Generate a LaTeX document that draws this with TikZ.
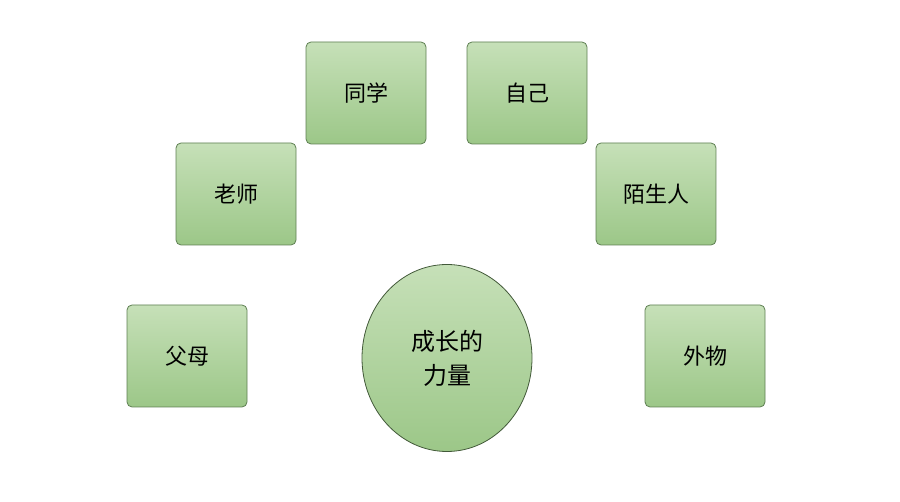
\documentclass[tikz,border=0pt]{standalone}
\usepackage{fontspec}
\setmainfont{Noto Sans CJK SC}
\usetikzlibrary{arrows.meta,shapes.geometric}
\definecolor{boxtop}{HTML}{C6E0B8}
\definecolor{boxbot}{HTML}{9CC788}
\definecolor{boxline}{HTML}{5E7F52}
\definecolor{arr}{HTML}{D6E9CF}
\begin{document}
\begin{tikzpicture}[x=1pt,y=-1pt,
  box/.style={draw=boxline,line width=0.8pt,rounded corners=5pt,top color=boxtop,bottom color=boxbot,minimum width=120pt,minimum height=102pt,font=\fontsize{22}{26}\selectfont},
  big/.style={draw=boxline!70!black,line width=0.8pt,ellipse,top color=boxtop,bottom color=boxbot,minimum width=170pt,minimum height=187pt,align=center,font=\fontsize{24}{34}\selectfont},
  blk/.style={draw=none,arr,line width=30pt,-{Triangle[width=54pt,length=24pt]}}]
\useasboundingbox (0,0) rectangle (900,502);
\node[big] (c) at (447,358) {成长的\\力量};
\node[box] (fm) at (187,356) {父母};
\node[box] (ls) at (236,194) {老师};
\node[box] (tx) at (366,93) {同学};
\node[box] (zj) at (527,93) {自己};
\node[box] (msr) at (656,194) {陌生人};
\node[box] (ww) at (705,356) {外物};
\coordinate (a1s) at (248,356); \coordinate (a1e) at (352,356);
\coordinate (a2s) at (290,240); \coordinate (a2e) at (372,302);
\coordinate (a3s) at (380,148); \coordinate (a3e) at (420,260);
\coordinate (a4s) at (514,148); \coordinate (a4e) at (476,260);
\coordinate (a5s) at (605,240); \coordinate (a5e) at (524,302);
\coordinate (a6s) at (645,356); \coordinate (a6e) at (543,356);
\foreach \i in {1,...,6}{\draw[blk] (a\i s) -- (a\i e);}
\end{tikzpicture}
\end{document}
